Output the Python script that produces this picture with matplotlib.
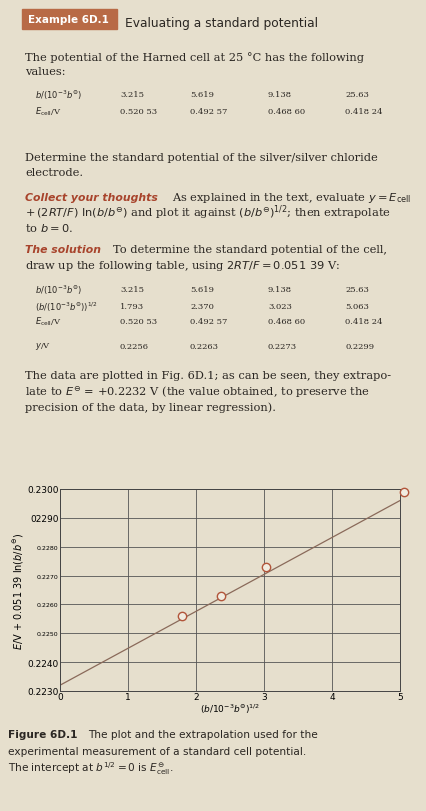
import matplotlib
matplotlib.use("Agg")
import matplotlib.pyplot as plt
from matplotlib.patches import Rectangle

b = [3.215, 5.619, 9.138, 25.63]
E = ["0.520 53", "0.492 57", "0.468 60", "0.418 24"]
sqrtb = [1.793, 2.370, 3.023, 5.063]
y = [0.2256, 0.2263, 0.2273, 0.2299]
fit_x = [0, 5]
fit_y = [0.2232, 0.2296]
yticks = [0.2230, 0.2240, 0.2250, 0.2260, 0.2270, 0.2280, 0.2290, 0.2300]
yticklabels = ["0.2230", "0.2240", "0.2250", "0.2260", "0.2270", "0.2280", "02290", "0.2300"]

W, H = 426, 812
bg = "#e6dfcd"
fig = plt.figure(figsize=(W/100, H/100), dpi=100, facecolor=bg)
ink = "#2a2622"
red = "#a8442c"
serif = "DejaVu Serif"

def T(x, yy, s, **kw):
    kw.setdefault("color", ink)
    kw.setdefault("fontsize", 8.2)
    kw.setdefault("family", serif)
    fig.text(x/W, 1-yy/H, s, va="center", **kw)

fig.patches.append(Rectangle((22/W, 1-30/H), 95/W, 20/H, transform=fig.transFigure, color="#b86a46"))
T(28, 20, "Example 6D.1", color="white", family="DejaVu Sans", fontsize=7.5, weight="bold")
T(125, 24, "Evaluating a standard potential", family="DejaVu Sans", fontsize=8.8)

T(25, 58, "The potential of the Harned cell at 25 °C has the following")
T(25, 72, "values:")
cols = [120, 190, 268, 345]
T(35, 95, r"$b/(10^{-3}b^{\ominus})$", fontsize=6)
T(35, 112, r"$E_{\rm cell}$/V", fontsize=6)
for i in range(4):
    T(cols[i], 95, f"{b[i]}", fontsize=6)
    T(cols[i], 112, E[i], fontsize=6)

T(25, 158, "Determine the standard potential of the silver/silver chloride")
T(25, 173, "electrode.")
T(25, 198, "Collect your thoughts", color=red, family="DejaVu Sans", style="italic", weight="bold", fontsize=7.8)
T(172, 198, r"As explained in the text, evaluate $y = E_{\rm cell}$")
T(25, 213, r"$+\,(2RT/F)\ \ln(b/b^{\ominus})$ and plot it against $(b/b^{\ominus})^{1/2}$; then extrapolate")
T(25, 228, r"to $b = 0$.")
T(25, 250, "The solution", color=red, family="DejaVu Sans", style="italic", weight="bold", fontsize=7.8)
T(113, 250, "To determine the standard potential of the cell,")
T(25, 266, r"draw up the following table, using $2RT/F = 0.051\ 39$ V:")
T(35, 290, r"$b/(10^{-3}b^{\ominus})$", fontsize=6)
T(35, 307, r"$(b/(10^{-3}b^{\ominus}))^{1/2}$", fontsize=6)
T(35, 322, r"$E_{\rm cell}$/V", fontsize=6)
T(35, 347, r"$y$/V", fontsize=6)
for i in range(4):
    T(cols[i], 290, f"{b[i]}", fontsize=6)
    T(cols[i], 307, f"{sqrtb[i]:.3f}", fontsize=6)
    T(cols[i], 322, E[i], fontsize=6)
    T(cols[i], 347, f"{y[i]:.4f}", fontsize=6)
T(25, 376, "The data are plotted in Fig. 6D.1; as can be seen, they extrapo-")
T(25, 392, r"late to $E^{\ominus}$ = +0.2232 V (the value obtained, to preserve the")
T(25, 408, "precision of the data, by linear regression).")

ax = fig.add_axes([60/W, 1-692/H, 340/W, 202/H])
ax.set_facecolor(bg)
ax.plot(fit_x, fit_y, color="#8a6a5a", lw=0.9)
ax.plot(sqrtb, y, "o", mfc="#f1ece0", mec="#b2553a", ms=6, mew=1, clip_on=False, zorder=5)
ax.set_xlim(0, 5)
ax.set_ylim(0.2230, 0.2300)
ax.set_xticks(range(6))
ax.set_yticks(yticks)
ax.set_yticklabels(yticklabels)
for lab, yt in zip(ax.get_yticklabels(), yticks):
    lab.set_fontsize(4.5 if 0.2245 < yt < 0.2285 else 6.5)
ax.tick_params(axis="x", labelsize=6.5, length=0, pad=1)
ax.tick_params(axis="y", length=0, pad=1)
ax.grid(True, color="#555", lw=0.6)
for s in ax.spines.values():
    s.set_color("#444"); s.set_linewidth(0.7)
ax.set_xlabel(r"$(b/10^{-3}b^{\ominus})^{1/2}$", fontsize=6.5, labelpad=0)
ax.set_ylabel(r"$E$/V + 0.051 39 ln($b$/$b^{\ominus}$)", fontsize=7, labelpad=1)

T(8, 735, "Figure 6D.1", family="DejaVu Sans", weight="bold", fontsize=7.6)
T(88, 735, "The plot and the extrapolation used for the", family="DejaVu Sans", fontsize=7.6)
T(8, 752, "experimental measurement of a standard cell potential.", family="DejaVu Sans", fontsize=7.6)
T(8, 769, r"The intercept at $b^{1/2} = 0$ is $E^{\ominus}_{\rm cell}$.", family="DejaVu Sans", fontsize=7.6)

fig.savefig("out.png", dpi=100, facecolor=bg)
